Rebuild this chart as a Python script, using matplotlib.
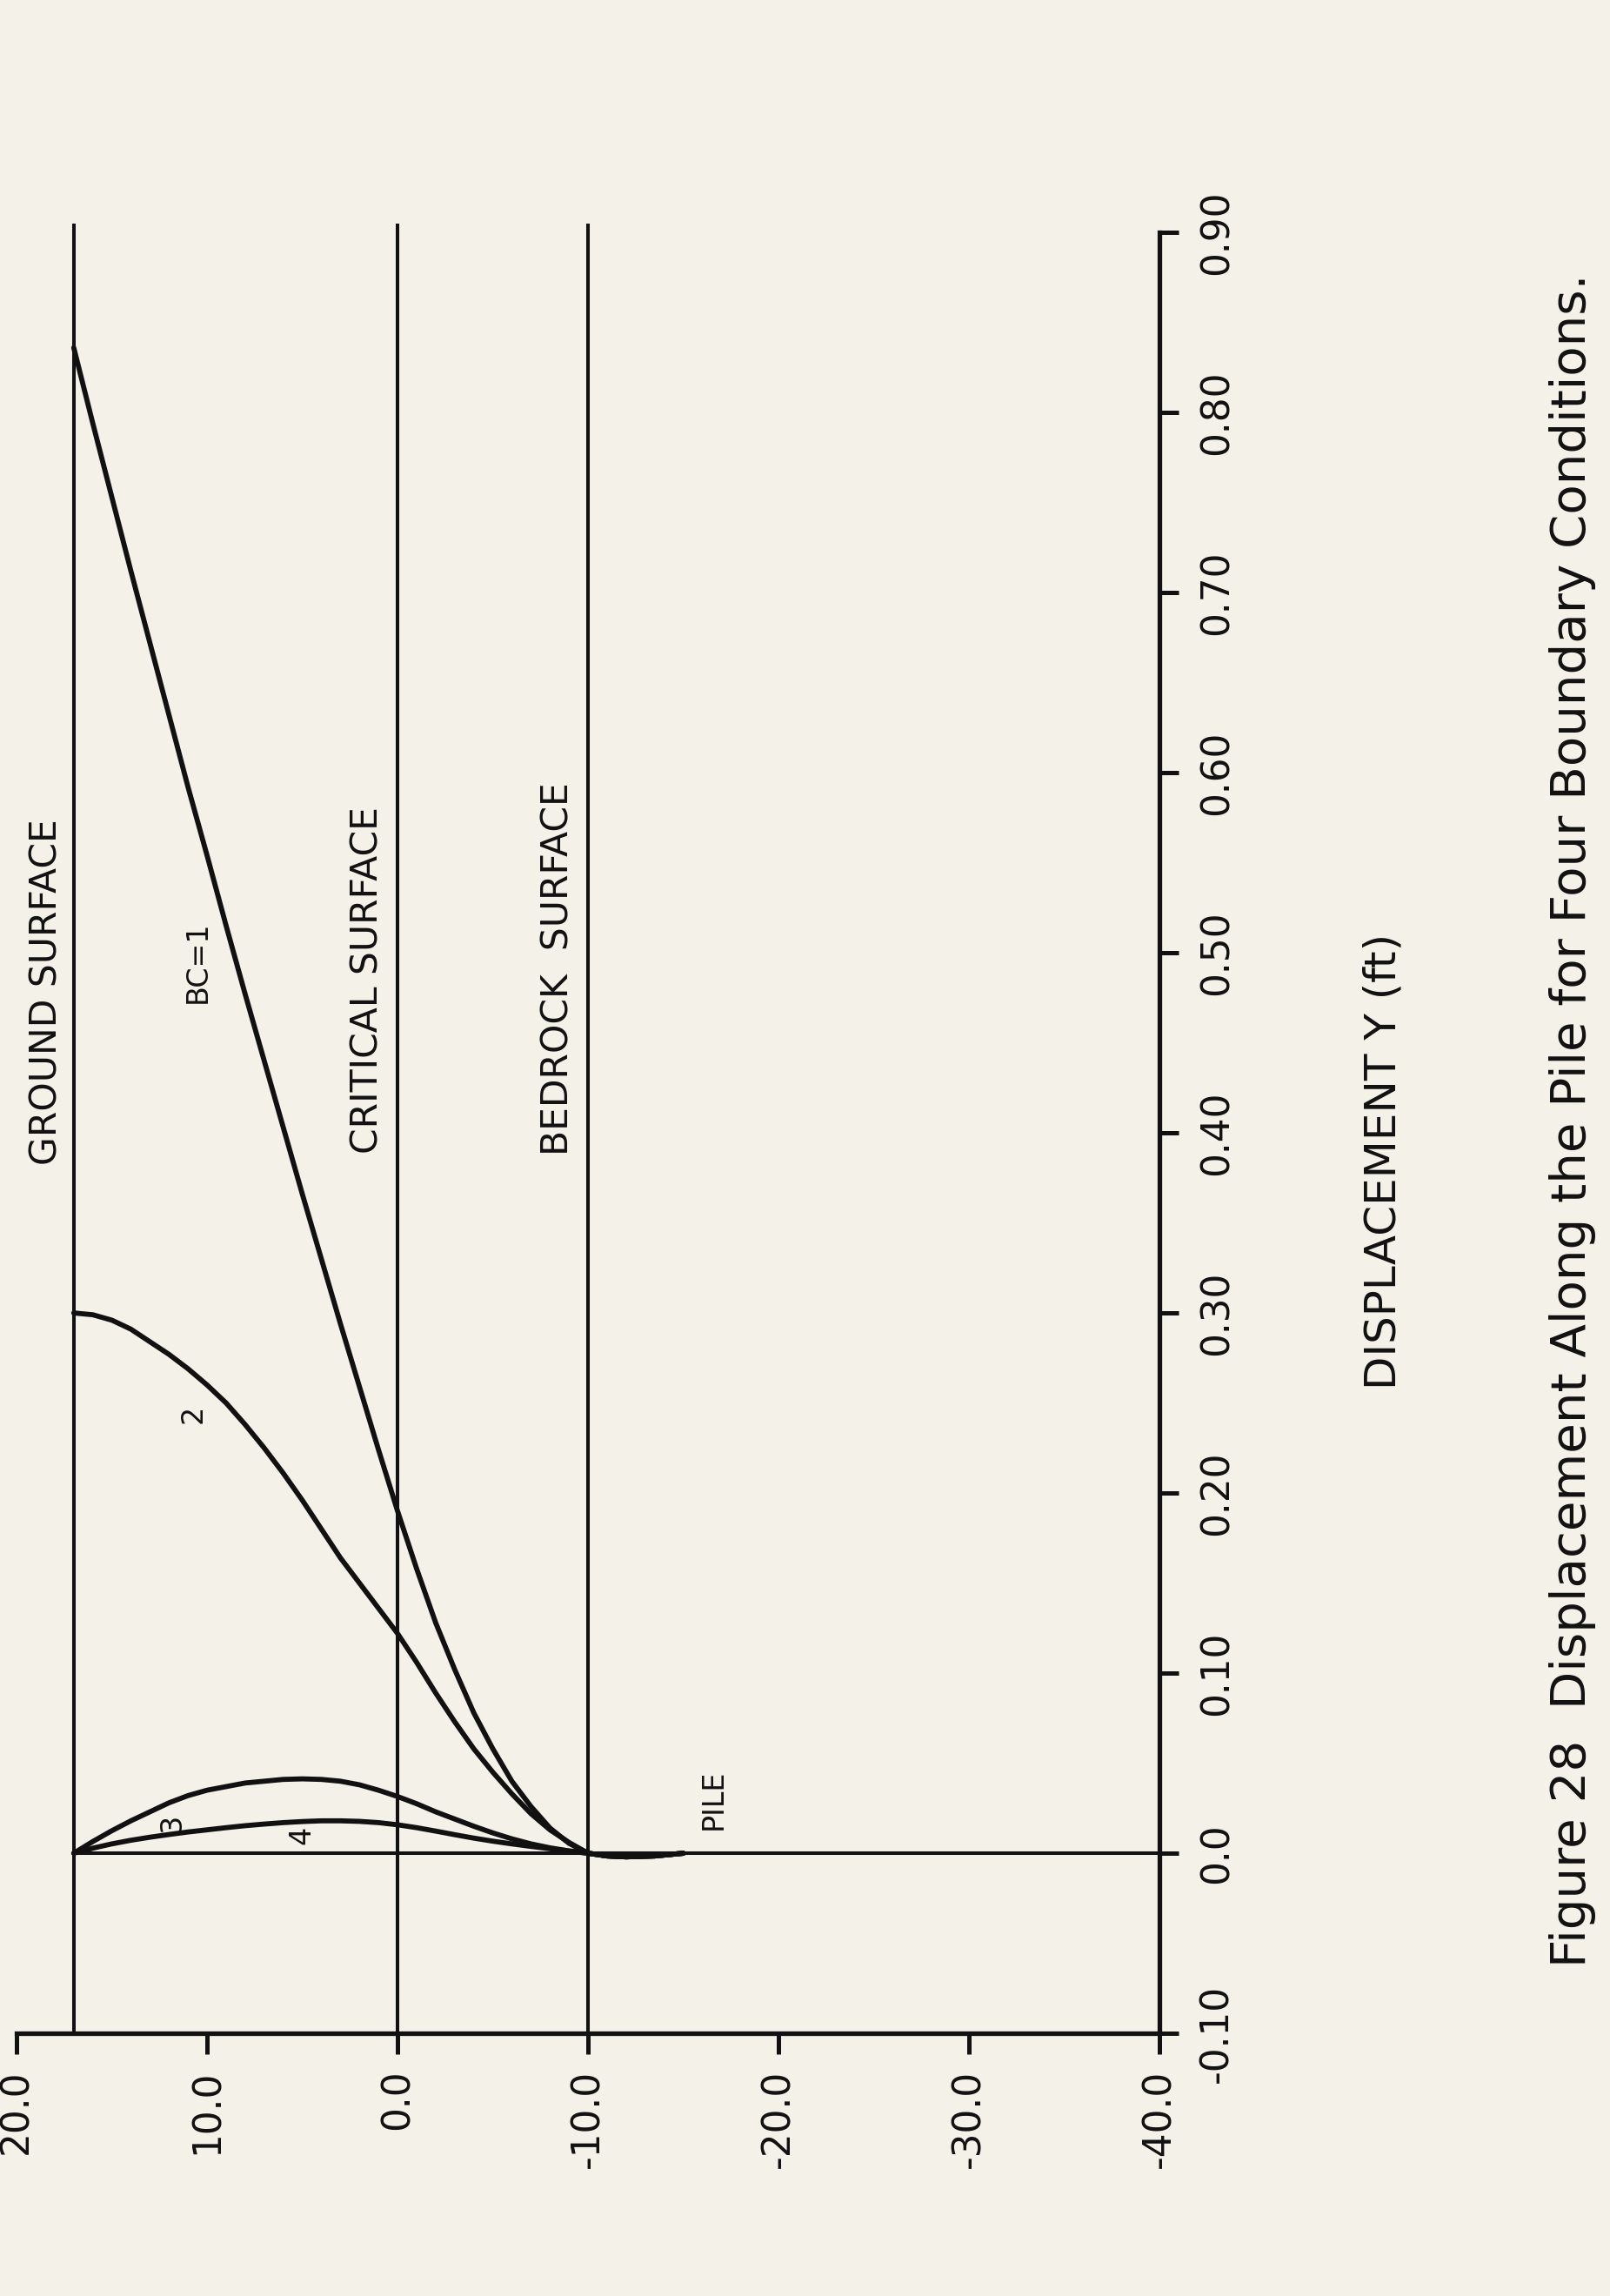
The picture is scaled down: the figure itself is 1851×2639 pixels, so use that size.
import matplotlib.pyplot as plt

# Depth (ft, along the pile) and displacement Y (ft).
# The page is printed turned 90 degrees, so depth runs across and Y runs up.
surface_names = ["GROUND SURFACE", "CRITICAL SURFACE", "BEDROCK  SURFACE"]
surface_depths = [17.0, 0.0, -10.0]

depth_pts = [17, 16, 15, 14, 13, 12, 11, 10, 9, 8, 7, 6, 5, 4, 3, 2, 1, 0,
             -1, -2, -3, -4, -5, -6, -7, -8, -9, -10, -11, -12, -13.5, -15]

bc1_disp = [0.836, 0.794, 0.753, 0.712, 0.672, 0.632, 0.592, 0.554, 0.515, 0.477,
            0.440, 0.403, 0.366, 0.330, 0.294, 0.259, 0.224, 0.190, 0.158, 0.128,
            0.102, 0.078, 0.058, 0.040, 0.026, 0.014, 0.0055, 0.0,
            -0.0015, -0.002, -0.0015, 0.0]
bc2_disp = [0.300, 0.299, 0.296, 0.291, 0.284, 0.277, 0.269, 0.260, 0.250, 0.238,
            0.225, 0.211, 0.196, 0.180, 0.164, 0.150, 0.136, 0.122, 0.106, 0.089,
            0.073, 0.058, 0.045, 0.033, 0.022, 0.013, 0.006, 0.0,
            -0.0015, -0.002, -0.0015, 0.0]
bc3_disp = [0.0, 0.0065, 0.0125, 0.018, 0.023, 0.028, 0.032, 0.035, 0.037, 0.039,
            0.040, 0.041, 0.0413, 0.041, 0.040, 0.038, 0.035, 0.0315, 0.0275, 0.023,
            0.019, 0.015, 0.0113, 0.008, 0.0052, 0.003, 0.0013, 0.0,
            -0.0015, -0.002, -0.0015, 0.0]
bc4_disp = [0.0, 0.0028, 0.0052, 0.0072, 0.0089, 0.0104, 0.0118, 0.013, 0.0142, 0.0153,
            0.0162, 0.017, 0.0176, 0.018, 0.018, 0.0177, 0.017, 0.0158, 0.0142, 0.0123,
            0.0103, 0.0084, 0.0067, 0.0052, 0.0038, 0.0025, 0.0012, 0.0,
            -0.0015, -0.002, -0.0015, 0.0]

depth_ticks = [20, 10, 0, -10, -20, -30, -40]
depth_tick_labels = ["20.0", "10.0", "0.0", "-10.0", "-20.0", "-30.0", "-40.0"]
disp_ticks = [-0.1, 0.0, 0.1, 0.2, 0.3, 0.4, 0.5, 0.6, 0.7, 0.8, 0.9]
disp_tick_labels = ["-0.10", "0.0", "0.10", "0.20", "0.30", "0.40", "0.50",
                    "0.60", "0.70", "0.80", "0.90"]

caption = "Figure 28  Displacement Along the Pile for Four Boundary Conditions."

paper = "#f4f1e8"
ink = "#111111"

fig = plt.figure(figsize=(18.51, 26.39), dpi=100)
fig.patch.set_facecolor(paper)
ax = fig.add_axes([0.0103, 0.1144, 0.7099, 0.7844])
ax.set_facecolor(paper)
ax.set_xlim(20, -40)
ax.set_ylim(-0.10, 0.90)

ax.spines["top"].set_visible(False)
ax.spines["left"].set_visible(False)
for side in ["bottom", "right"]:
    ax.spines[side].set_linewidth(3.8)
    ax.spines[side].set_color(ink)

ax.yaxis.tick_right()
ax.set_xticks(depth_ticks, depth_tick_labels)
ax.set_yticks(disp_ticks, disp_tick_labels)
ax.tick_params(axis="both", direction="out", width=3.6, colors=ink, labelsize=31.5)
ax.tick_params(axis="x", length=17, pad=13, labelrotation=90)
ax.tick_params(axis="y", length=16, pad=16, labelrotation=90)
for lab in ax.get_yticklabels():
    lab.set_va("center")

# surfaces and the pile itself
ax.vlines(surface_depths, -0.10, 0.905, colors=ink, linewidth=2.9, clip_on=False)
ax.hlines(0.0, surface_depths[0], -40, colors=ink, linewidth=2.9)

for v in [bc1_disp, bc2_disp, bc3_disp, bc4_disp]:
    ax.plot(depth_pts, v, color=ink, linewidth=4.2, solid_joinstyle="round",
            solid_capstyle="round")

# labels, all written sideways like the page
surf_label_pos = [(18.42, 0.478), (1.60, 0.485), (-8.44, 0.491)]
for name, (d, v) in zip(surface_names, surf_label_pos):
    ax.text(d, v, name, rotation=90, ha="center", va="center",
            fontsize=30.6, color=ink)

curve_labels = ["BC=1", "2", "3", "4", "PILE"]
curve_label_pos = [(10.5, 0.495), (10.75, 0.244), (11.84, 0.017),
                   (5.03, 0.010), (-16.58, 0.030)]
for name, (d, v) in zip(curve_labels, curve_label_pos):
    ax.text(d, v, name, rotation=90, ha="center", va="center",
            fontsize=24, color=ink)

ax.set_ylabel("DISPLACEMENT Y (ft)", fontsize=36, color=ink, rotation=90)
ax.yaxis.set_label_position("right")
ax.yaxis.set_label_coords(1.1773, 0.4841)

fig.text(0.977, 0.5120, caption, rotation=90, ha="center", va="center",
         fontsize=40.5, color=ink)

fig.savefig("out.png", dpi=100, facecolor=paper)
